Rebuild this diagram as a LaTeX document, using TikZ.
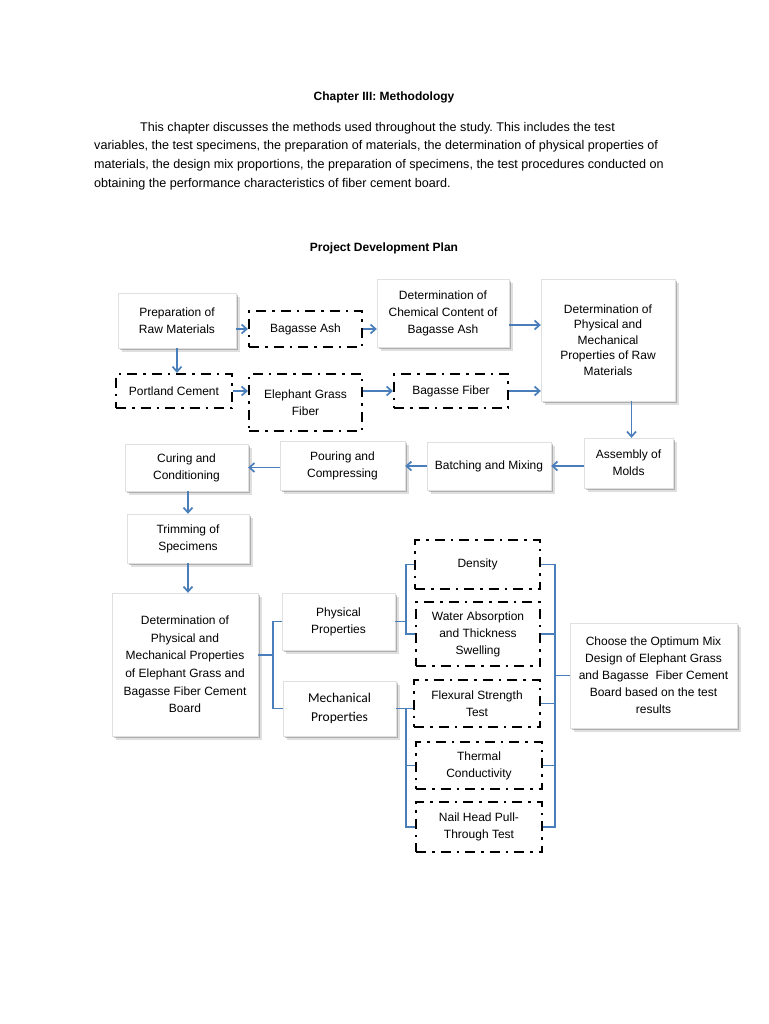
\documentclass[tikz,border=0pt]{standalone}
\usepackage{fontspec}
\setmainfont{Liberation Sans}
\newfontfamily\calfont{Carlito}
\usetikzlibrary{arrows.meta,shadows}
\definecolor{arrowblue}{RGB}{74,126,187}
\frenchspacing
\begin{document}
\begin{tikzpicture}[x=1pt,y=-1pt,
  solidbox/.style={draw=black!12, line width=0.4pt, fill=white, align=center, inner sep=2pt,
    font=\fontsize{12}{17}\selectfont,
    drop shadow={shadow xshift=3.5pt, shadow yshift=-3.5pt, fill=black!50, opacity=0.25},
    drop shadow={shadow xshift=2pt, shadow yshift=-2pt, fill=black!60, opacity=0.4}},
  dashbox/.style={draw=black, line width=2.2pt, dash pattern=on 10pt off 6pt on 2.5pt off 6pt,
    fill=white, align=center, inner sep=2pt, font=\fontsize{12}{17}\selectfont},
  arr/.style={draw=arrowblue, line width=1.7pt, -{Straight Barb[length=5pt,width=9pt]}},
  conn/.style={draw=arrowblue, line width=1.6pt},
  paraline/.style={anchor=west, inner sep=0pt, font=\fontsize{12.6}{15}\selectfont},
  heading/.style={inner sep=0pt, font=\fontsize{12}{14}\selectfont\bfseries}
]
\useasboundingbox (0,0) rectangle (768,1024);
\fill[white] (0,0) rectangle (768,1024);

% texts
\node[heading] (title) at (384,97) {Chapter III: Methodology};
\node[paraline] (p1) at (140,128) {This chapter discusses the methods used throughout the study. This includes the test};
\node[paraline] (p2) at (94,146.5) {variables, the test specimens, the preparation of materials, the determination of physical properties of};
\node[paraline] (p3) at (94,165) {materials, the design mix proportions, the preparation of specimens, the test procedures conducted on};
\node[paraline] (p4) at (94,184) {obtaining the performance characteristics of fiber cement board.};
\node[heading] (plan) at (384,248) {Project Development Plan};

% row 1
\node[solidbox, minimum width=118pt, minimum height=55pt] (prep) at (177,320.5) {Preparation of\\Raw Materials};
\node[dashbox, minimum width=113pt, minimum height=36pt] (bash) at (305.5,329) {Bagasse Ash};
\node[solidbox, minimum width=132pt, minimum height=68pt] (chem) at (443,313) {Determination of\\Chemical Content of\\Bagasse Ash};
\node[solidbox, minimum width=134pt, minimum height=122pt, font=\fontsize{12}{15.5}\selectfont] (raw) at (608,340) {Determination of\\Physical and\\Mechanical\\Properties of Raw\\Materials};

% row 2
\node[dashbox, minimum width=116pt, minimum height=34pt] (port) at (174,391) {Portland Cement};
\node[dashbox, minimum width=113pt, minimum height=57pt] (eleph) at (305.5,402.5) {Elephant Grass\\Fiber};
\node[dashbox, minimum width=114pt, minimum height=34pt] (bfib) at (451,391) {Bagasse Fiber};

% row 3
\node[solidbox, minimum width=89pt, minimum height=50pt] (assem) at (628.5,463) {Assembly of\\Molds};
\node[solidbox, minimum width=124pt, minimum height=48pt] (batch) at (489,466) {Batching and Mixing};
\node[solidbox, minimum width=125pt, minimum height=49pt] (pour) at (342.5,465.5) {Pouring and\\Compressing};
\node[solidbox, minimum width=123pt, minimum height=47pt] (cure) at (186.5,467.5) {Curing and\\Conditioning};
\node[solidbox, minimum width=122pt, minimum height=49pt] (trim) at (188,538.5) {Trimming of\\Specimens};

% lower part
\node[solidbox, minimum width=146pt, minimum height=143pt, font=\fontsize{12}{17.6}\selectfont] (detpm) at (185,664.5) {Determination of\\Physical and\\Mechanical Properties\\of Elephant Grass and\\Bagasse Fiber Cement\\Board};
\node[solidbox, minimum width=113pt, minimum height=57pt] (phys) at (338.5,621.5) {Physical\\Properties};
\node[solidbox, minimum width=113pt, minimum height=55pt, font=\calfont\fontsize{13.5}{19}\selectfont] (mech) at (339.5,708.5) {Mechanical\\Properties};

\node[dashbox, minimum width=125pt, minimum height=49pt] (dens) at (477.5,564.5) {Density};
\node[dashbox, minimum width=124pt, minimum height=64pt] (water) at (478,634) {Water Absorption\\and Thickness\\Swelling};
\node[dashbox, minimum width=126pt, minimum height=47pt] (flex) at (477,703.5) {Flexural Strength\\Test};
\node[dashbox, minimum width=126pt, minimum height=47pt] (therm) at (479,765.5) {Thermal\\Conductivity};
\node[dashbox, minimum width=126pt, minimum height=50pt] (nail) at (479,827) {Nail Head Pull-\\Through Test};

\node[solidbox, minimum width=167pt, minimum height=105pt] (choose) at (653.5,675.5) {Choose the Optimum Mix\\Design of Elephant Grass\\and Bagasse\ \ Fiber Cement\\Board based on the test\\results};

% arrows
\draw[arr] (prep.east |- bash.west) -- (bash.west);
\draw[arr] (bash.east) -- (bash.east -| chem.west);
\draw[arr] ([yshift=-12pt]chem.east) -- ([yshift=-12pt]chem.east -| raw.west);
\draw[arr] (prep.south) -- (prep.south |- port.north);
\draw[arr] (port.east) -- (port.east -| eleph.west);
\draw[arr] (eleph.east |- bfib.west) -- (bfib.west);
\draw[arr] (bfib.east) -- (bfib.east -| raw.west);
\draw[arr] ([xshift=3pt]assem.north |- raw.south) -- ([xshift=3pt]assem.north);
\draw[arr] (assem.west |- batch.east) -- (batch.east);
\draw[arr] (batch.west) -- (batch.west -| pour.east);
\draw[arr] (pour.west |- cure.east) -- (cure.east);
\draw[arr] (cure.south -| trim.north) -- (trim.north);
\draw[arr] (trim.south) -- (trim.south |- detpm.north);

% brackets
\coordinate (j1) at (273,655);
\draw[conn] (detpm.east |- j1) -- (j1);
\draw[conn] (phys.west) -| (j1) |- (mech.west);

\coordinate (j2) at (406,621.5);
\draw[conn] (phys.east) -- (j2);
\draw[conn] (dens.west) -| (j2) |- (water.west);

\coordinate (j3) at (406,708.5);
\draw[conn] (mech.east) -- (mech.east -| flex.west);
\draw[conn] (j3) |- (therm.west);
\draw[conn] (j3) |- (nail.west);

\coordinate (j4) at (555,675.5);
\draw[conn] (dens.east) -| (j4) |- (nail.east);
\draw[conn] (water.east) -- (water.east -| j4);
\draw[conn] (flex.east) -- (flex.east -| j4);
\draw[conn] (therm.east) -- (therm.east -| j4);
\draw[conn] (j4) -- (choose.west);
\end{tikzpicture}
\end{document}
